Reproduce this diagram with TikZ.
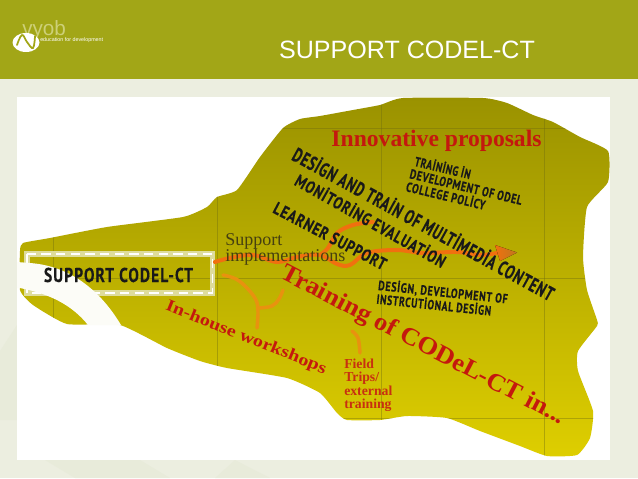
\documentclass[tikz,border=0pt]{standalone}
\usepackage{fontspec}
\usepackage{graphicx}
\setmainfont{Liberation Serif}
\newfontfamily\sansf{Liberation Sans}
\newfontfamily\disp[LetterSpace=7,BoldFeatures={FakeBold=0.35,LetterSpace=7}]{PT Sans}
\usetikzlibrary{arrows.meta}
\definecolor{bgc}{HTML}{ECEEE0}
\definecolor{bgd}{HTML}{E8EBDA}
\definecolor{hdr}{HTML}{A2A617}
\definecolor{redt}{HTML}{C4180E}
\definecolor{orangeA}{HTML}{F0700F}
\definecolor{orangeB}{HTML}{E8920F}
\definecolor{orangeC}{HTML}{BE781E}
\definecolor{gridc}{HTML}{6E6C10}
\definecolor{creamb}{HTML}{DEDC9C}
\definecolor{blobtop}{HTML}{9A9200}
\definecolor{blobbot}{HTML}{DECE00}
\definecolor{vyobc}{HTML}{CDD078}
\definecolor{supc}{HTML}{464010}
\definecolor{fieldc}{HTML}{C83010}
\newcommand{\fit}[3]{\resizebox{0.75\dimexpr #1pt\relax}{\height}{\fontsize{#2}{#2}\selectfont\disp\bfseries #3}}
\tikzset{
  lbl/.style={inner sep=0pt,outer sep=0pt,text=black!90},
  redlbl/.style={inner sep=0pt,outer sep=0pt,text=redt,font=\bfseries},
  arrowline/.style={draw=orangeA,line width=3pt,line cap=round,line join=round},
  treeline/.style={draw=orangeB,line width=2.6pt,line cap=round,line join=round},
  gridline/.style={draw=gridc,opacity=.4,line width=.5pt},
}
\def\blobpath{plot[smooth cycle,tension=0.3] coordinates{
 (50,238)(107,227)(183,217)(207,207)(217,197)(237,190)(260,157)(283,128)(300,119)
 (320,116)(353,110)(380,105)(403,98)(483,98)(507,103)(533,115)(553,122)(580,137)
 (608,151)(608,182)(587,207)(583,257)(587,290)(597,320)(597,326)(578,351)(578,371)
 (593,411)(590,438)(577,455)(547,456)(520,446)(480,431)(447,418)(407,416)(380,420)
 (347,420)(337,413)(320,393)(287,378)(227,368)(200,361)(167,348)(120,325)(67,324)(33,305)
 (20,290)(20,251)(23,243)}}
\begin{document}
\begin{tikzpicture}[x=0.75pt,y=-0.75pt]
\useasboundingbox (0,0) rectangle (638,478);
% slide
\fill[bgc] (0,0) rectangle (638,478);
\fill[bgd] (0,351) -- (17,325) -- (17,420) -- (0,420) -- cycle;
\fill[bgd] (45,460) -- (140,460) -- (170,478) -- (75,478) -- cycle;
\fill[bgd] (215,478) -- (235,460) -- (270,478) -- cycle;
\fill[hdr] (0,0) rectangle (638,79);
\fill[white] (17,97) rectangle (610,460);
% blob
\path[top color=blobtop,bottom color=blobbot] \blobpath;
\begin{scope}
 \clip \blobpath;
 \foreach \gx in {53,217,381,544}{\draw[gridline] (\gx,90) -- (\gx,465);}
 \foreach \gy in {128,278,418}{\draw[gridline] (10,\gy) -- (615,\gy);}
\end{scope}
% highlighted box
\draw[creamb,line width=3.8pt] (27,254) rectangle (212.5,293);
\draw[white,line width=.9pt,dash pattern=on 7pt off 4pt] (27,254) rectangle (212.5,293);
% swoosh
\fill[white!92!creamb] (17,262) -- (30,263) .. controls (70,266) and (100,290) .. (121,325) -- (88,325)
   .. controls (72,305) and (50,294) .. (20,288) -- (17,288) -- cycle;
% arrows
\draw[arrowline] plot[smooth,tension=.6] coordinates{(215,262)(230,258)(253,255)(277,262)(297,257)(320,255)(337,264)(350,265)(367,253)(397,250)(423,253)(457,252)(480,255)(497,253)};
\draw[arrowline] plot[smooth,tension=.6] coordinates{(320,255)(328,248)(337,233)(353,225)(373,222)};
\coordinate (hA) at (495,245);
\coordinate (hB) at (517,252.5);
\coordinate (hC) at (500,261);
\fill[left color=orangeA,right color=orangeC] (hA) -- (hB) -- (hC) -- cycle;
\draw[treeline] plot[smooth,tension=.6] coordinates{(223,275)(236,279)(247,288)(256,300)(258,312)(257,328)};
\draw[treeline] plot[smooth,tension=.6] coordinates{(259,308)(272,306)(279,299)(283,290)};
\draw[treeline] plot[smooth,tension=.6] coordinates{(352,331)(358,338)(360,353)};
% header texts
\node[anchor=center,text=white,font=\sansf\fontsize{18.8}{20}\selectfont,inner sep=0pt] (title) at (407,50) {SUPPORT CODEL-CT};
\node[anchor=base west,text=vyobc,font=\sansf\fontsize{15.5}{16}\selectfont,inner sep=0pt] (vyob) at (22,36) {vyob};
\node[anchor=base west,text=white,font=\sansf\fontsize{4}{5}\selectfont,inner sep=0pt] (edu) at (40,41) {education for development};
\fill[white] (26,42.5) ellipse (13.5 and 9.5);
\draw[hdr,line width=1.3pt,line cap=round] plot[smooth,tension=.7] coordinates{(17,45)(22,35)(27,42)(33,48)(35,36)};
% box label
\node[lbl] (boxlabel) at (118.5,275) {\fit{149}{15}{SUPPORT CODEL-CT}};
% black rotated labels
\node[lbl,rotate=-28.8] (l1) at (424,223) {\fit{295}{15}{DESİGN AND TRAİN OF MULTİMEDİA CONTENT}};
\node[lbl,rotate=-29.5] (l2) at (371,220) {\fit{170}{13}{MONİTORİNG EVALUATİON}};
\node[lbl,rotate=-27.8] (l3) at (330,236) {\fit{125}{13}{LEARNER SUPPORT}};
\node[lbl,rotate=-13.5] (t1) at (443,167) {\fit{57}{10}{TRAİNİNG İN}};
\node[lbl,rotate=-13.5] (t2) at (466,187) {\fit{115}{10}{DEVELOPMENT OF ODEL}};
\node[lbl,rotate=-13.5] (t3) at (446,195) {\fit{81}{10}{COLLEGE POLİCY}};
\node[lbl,rotate=-6] (d1) at (443,292) {\fit{130}{10}{DESİGN, DEVELOPMENT OF}};
\node[lbl,rotate=-6] (d2) at (434,304) {\fit{115}{10}{INSTRCUTİONAL DESİGN}};
% serif labels
\node[redlbl,font=\bfseries\fontsize{17.7}{18}\selectfont,anchor=base] (innov) at (436.5,146) {Innovative proposals};
\node[redlbl,rotate=-27.6] (train) at (423,346) {\resizebox{238pt}{\height}{\fontsize{18.5}{19}\selectfont\bfseries Training of CODeL-CT in...}};
\node[redlbl,rotate=-22] (house) at (246,338) {\resizebox{129pt}{\height}{\fontsize{12.5}{13}\selectfont\bfseries In-house workshops}};
\node[anchor=base west,inner sep=0pt,text=supc,font=\fontsize{13.5}{14}\selectfont] (sup1) at (225,245) {Support};
\node[anchor=base west,inner sep=0pt,text=supc,font=\fontsize{13.5}{14}\selectfont] (sup2) at (225,261) {implementations};
\foreach \nm/\tx/\by in {f1/Field/368,f2/Trips\slash/381,f3/external/395,f4/training/408}{
  \node[anchor=base west,inner sep=0pt,text=fieldc,font=\bfseries\fontsize{10.3}{11}\selectfont] (\nm) at (344,\by) {\tx};
}
\end{tikzpicture}
\end{document}
